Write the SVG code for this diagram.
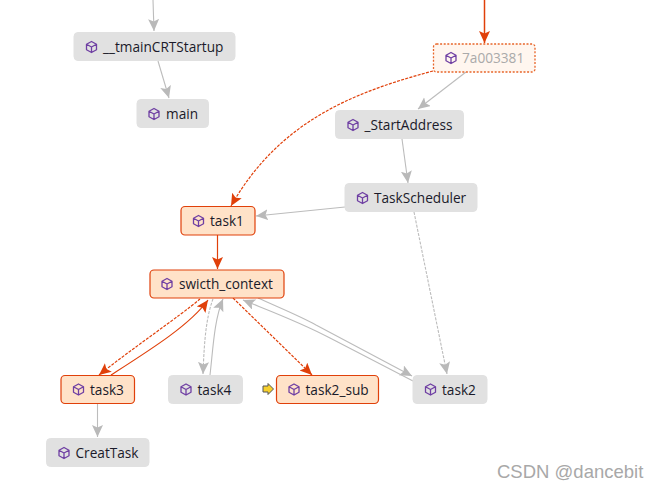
<svg xmlns="http://www.w3.org/2000/svg" width="661" height="489" viewBox="0 0 661 489">
<style>
.g{fill:#e1e1e1;stroke:#e1e1e1;stroke-width:1}
.o{fill:#ffe2c8;stroke:#e0400a;stroke-width:1.2}
.x{fill:#fff6ef;stroke:#e8662a;stroke-width:1.3;stroke-dasharray:2 1.6}
.t{font-family:"Open Sans","Noto Sans",sans-serif;font-size:13.65px;fill:#1a1a2a}
.c{fill:none;stroke:#bcbcbc;stroke-width:1.1}
.r{fill:none;stroke:#e0400a;stroke-width:1.2}
.d{stroke-dasharray:3 1.3}
.i{fill:none;stroke:#6f3fa3;stroke-width:1.3;stroke-linejoin:round}
</style>
<defs>
<marker id="ag" markerUnits="userSpaceOnUse" markerWidth="14" markerHeight="13" refX="12" refY="5.500" orient="auto"><path d="M0 0L12 5.500L0 11L2.500 5.500Z" fill="#b9b9b9"/></marker>
<marker id="ar" markerUnits="userSpaceOnUse" markerWidth="14" markerHeight="13" refX="12" refY="5.500" orient="auto"><path d="M0 0L12 5.500L0 11L2.500 5.500Z" fill="#e0400a"/></marker>
<g id="cube"><path class="i" d="M0 -5.500L5 -2.700V2.700L0 5.500L-5 2.700V-2.700Z M-5 -2.700L0 0L5 -2.700 M0 0V5.500"/></g>
</defs>
<g id="connectors">
<path class="c" marker-end="url(#ag)" d="M153 0L154 31"/>
<path class="c" marker-end="url(#ag)" d="M158 61L169 98"/>
<path class="r" style="stroke-width:1.5" marker-end="url(#ar)" d="M484.500 0V43"/>
<path class="c" marker-end="url(#ag)" d="M466 72L418 109"/>
<path class="c" marker-end="url(#ag)" d="M402 139L408 183"/>
<path class="c" marker-end="url(#ag)" d="M345 207L256 216"/>
<path class="r d" marker-end="url(#ar)" d="M433 71C355 92 280 120 231 206"/>
<path class="r" marker-end="url(#ar)" d="M217.500 235V269"/>
<path class="c d" marker-end="url(#ag)" d="M414 212L447 374"/>
<path class="r d" marker-end="url(#ar)" d="M200 299C180 316 130 350 99 375"/>
<path class="r" marker-end="url(#ar)" d="M111 375C150 350 190 325 208 300"/>
<path class="c d" marker-end="url(#ag)" d="M213 299C205 320 204 350 203 374"/>
<path class="c" marker-end="url(#ag)" d="M210 375C213 350 214 320 223 299"/>
<path class="r d" marker-end="url(#ar)" d="M233 298L312 375"/>
<path class="c" marker-end="url(#ag)" d="M258 298C280 308 300 316 316 325L412 376"/>
<path class="c" marker-end="url(#ag)" d="M413 381L330 338C300 322 270 311 243 300"/>
<path class="c" marker-end="url(#ag)" d="M97.500 404V437"/>
</g>
<g id="n-tmain"><rect class="g" x="74" y="32.500" width="161" height="28" rx="4"/><use href="#cube" x="91.500" y="47"/><text class="t" x="103" y="52">__tmainCRTStartup</text></g>
<g id="n-main"><rect class="g" x="137" y="99.500" width="71.500" height="28" rx="4"/><use href="#cube" x="154" y="114"/><text class="t" x="166" y="119">main</text></g>
<g id="n-7a"><rect class="x" x="433.500" y="44" width="101.500" height="28" rx="3"/><use href="#cube" x="451" y="58"/><text class="t" x="462" y="63" style="fill:#aaa">7a003381</text></g>
<g id="n-start"><rect class="g" x="335.500" y="110.500" width="128" height="28" rx="4"/><use href="#cube" x="353" y="125"/><text class="t" x="364.500" y="130">_StartAddress</text></g>
<g id="n-sched"><rect class="g" x="345" y="183.500" width="132" height="28" rx="4"/><use href="#cube" x="362.500" y="198"/><text class="t" x="374" y="203">TaskScheduler</text></g>
<g id="n-task1"><rect class="o" x="181" y="206.500" width="74" height="28.500" rx="4"/><use href="#cube" x="198.500" y="221"/><text class="t" x="210" y="226">task1</text></g>
<g id="n-switch"><rect class="o" x="150" y="270" width="134" height="28" rx="4"/><use href="#cube" x="167" y="284"/><text class="t" x="179" y="289">swicth_context</text></g>
<g id="n-task3"><rect class="o" x="61" y="375.500" width="73.500" height="28" rx="4"/><use href="#cube" x="78.500" y="389.500"/><text class="t" x="90" y="394.500">task3</text></g>
<g id="n-task4"><rect class="g" x="168.500" y="375.500" width="74" height="28" rx="4"/><use href="#cube" x="186" y="389.500"/><text class="t" x="197.500" y="394.500">task4</text></g>
<g id="n-sub"><path d="M263 386h5v-2.500l5.500 5.500l-5.500 5.500v-2.500h-5Z" fill="#f7d02c" stroke="#555" stroke-width="1"/><rect class="o" x="276.500" y="375.500" width="102" height="28" rx="4"/><use href="#cube" x="294" y="389.500"/><text class="t" x="305.500" y="394.500">task2_sub</text></g>
<g id="n-task2"><rect class="g" x="413" y="375.500" width="74" height="28" rx="4"/><use href="#cube" x="430.500" y="389.500"/><text class="t" x="442" y="394.500">task2</text></g>
<g id="n-creat"><rect class="g" x="46.500" y="438.500" width="102.500" height="28" rx="4"/><use href="#cube" x="64" y="453"/><text class="t" x="75.500" y="458">CreatTask</text></g>
<text x="497" y="478" style="font-family:'Liberation Sans',sans-serif;font-size:18.500px;fill:#a8a8a8">CSDN @dancebit</text>
</svg>
